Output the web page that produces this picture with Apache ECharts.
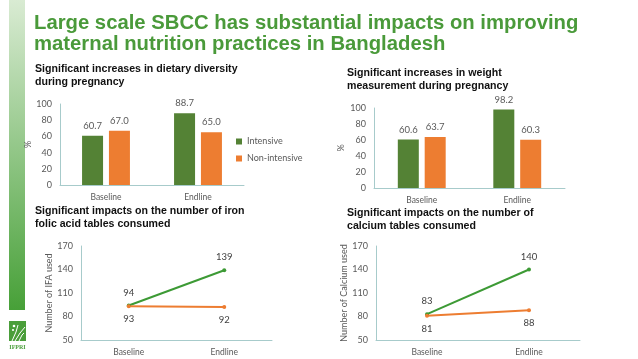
<!DOCTYPE html>
<html>
<head>
<meta charset="utf-8">
<script src="https://cdn.jsdelivr.net/npm/echarts@6/dist/echarts.min.js"></script>
<style>
html,body{margin:0;padding:0;background:#fff;}
#c{width:638px;height:359px;}
</style>
</head>
<body>
<div id="c"></div>
<script>
// ---- data ----
var categories = ['Baseline', 'Endline'];
var seriesNames = ['Intensive', 'Non-intensive'];
var intensiveDiet = [60.7, 88.7];
var nonIntensiveDiet = [67.0, 65.0];
var intensiveWeight = [60.6, 98.2];
var nonIntensiveWeight = [63.7, 60.3];
var intensiveIFA = [94, 139];
var nonIntensiveIFA = [93, 92];
var intensiveCalcium = [83, 140];
var nonIntensiveCalcium = [81, 88];

var mainTitle = 'Large scale SBCC has substantial impacts on improving\nmaternal nutrition practices in Bangladesh';
var sub1 = 'Significant increases in dietary diversity\nduring pregnancy';
var sub2 = 'Significant increases in weight\nmeasurement during pregnancy';
var sub3 = 'Significant impacts on the number of iron\nfolic acid tables consumed';
var sub4 = 'Significant impacts on the number of\ncalcium tables consumed';

// ---- styles ----
var GREEN_BAR = '#548235', ORANGE = '#ed7d31', GREEN_LINE = '#3d9a35';
var AXIS = '#a7cbcb', LBL = '#595959';
var lblFont = 'Lato, "Open Sans", sans-serif';

function fmt1(p){ return p.value.toFixed(1); }

function catAxis(gi){
  return {
    type: 'category', gridIndex: gi, data: categories,
    axisLine: {lineStyle: {color: AXIS, width: 1}},
    axisTick: {show: false},
    axisLabel: {color: LBL, fontSize: 8.5, fontFamily: lblFont, margin: 8}
  };
}
function valAxis(gi, min, max, interval, name, nameGap){
  return {
    type: 'value', gridIndex: gi, min: min, max: max, interval: interval,
    name: name, nameLocation: 'middle', nameGap: nameGap, nameRotate: 90,
    nameTextStyle: {color: LBL, fontSize: 9, fontFamily: lblFont},
    axisLine: {show: true, lineStyle: {color: AXIS, width: 1}},
    axisTick: {show: false},
    splitLine: {show: false},
    axisLabel: {color: LBL, fontSize: 9, fontFamily: lblFont, margin: 8}
  };
}
function barSeries(name, data, gi, color){
  return {
    type: 'bar', name: name, data: data, xAxisIndex: gi, yAxisIndex: gi,
    barWidth: 21, barGap: '28%', itemStyle: {color: color},
    label: {show: true, position: 'top', distance: 5, color: LBL, fontSize: 9.5, fontFamily: lblFont, formatter: fmt1}
  };
}
function lineSeries(name, data, gi, color, pos){
  return {
    type: 'line', name: name, data: data, xAxisIndex: gi, yAxisIndex: gi,
    symbol: 'circle', symbolSize: 4, lineStyle: {color: color, width: 2},
    itemStyle: {color: color},
    label: {show: true, position: pos, distance: 6, color: '#404040', fontSize: 9.5, fontFamily: lblFont}
  };
}

var subStyle = {fontSize: 10.6, fontWeight: 'bold', color: '#111', fontFamily: '"Liberation Sans", Arial, sans-serif', lineHeight: 13};

var chart = echarts.init(document.getElementById('c'), null, {renderer: 'canvas'});
chart.setOption({
  animation: false,
  backgroundColor: '#fff',
  title: [
    {text: mainTitle, left: 34, top: 13, padding: 0,
     textStyle: {fontSize: 20.3, fontWeight: 'bold', color: '#4a9a3a', fontFamily: '"Liberation Sans", Arial, sans-serif', lineHeight: 21}},
    {text: sub1, left: 35, top: 63, padding: 0, textStyle: subStyle},
    {text: sub2, left: 347, top: 67, padding: 0, textStyle: subStyle},
    {text: sub3, left: 35, top: 205, padding: 0, textStyle: subStyle},
    {text: sub4, left: 347, top: 207, padding: 0, textStyle: subStyle}
  ],
  legend: {
    data: seriesNames, orient: 'vertical', left: 236, top: 137, itemWidth: 6, itemHeight: 6, itemGap: 8,
    icon: 'rect', textStyle: {color: LBL, fontSize: 9, fontFamily: lblFont}, padding: 0
  },
  graphic: [
    {type: 'rect', shape: {x: 9, y: 0, width: 16, height: 310}, silent: true,
     style: {fill: new echarts.graphic.LinearGradient(0, 0, 0, 1, [{offset: 0, color: '#d9ebd3'}, {offset: 1, color: '#47a038'}])}},
    {type: 'group', left: 9, top: 321, silent: true, children: [
      {type: 'rect', shape: {x: 0, y: 0, width: 17, height: 20}, style: {fill: '#4a9e3a'}},
      {type: 'polyline', shape: {points: [[3, 20], [7, 11], [9, 4]]}, style: {stroke: '#fff', lineWidth: 1, fill: null}},
      {type: 'polyline', shape: {points: [[6, 20], [11, 12], [16, 6]]}, style: {stroke: '#fff', lineWidth: 1, fill: null}},
      {type: 'polyline', shape: {points: [[10, 20], [13, 14], [15, 12]]}, style: {stroke: '#fff', lineWidth: 1, fill: null}},
      {type: 'circle', shape: {cx: 5, cy: 5, r: 1.3}, style: {fill: '#fff'}},
      {type: 'circle', shape: {cx: 4, cy: 9, r: 1.1}, style: {fill: '#fff'}},
      {type: 'text', style: {x: 8.5, y: 23, text: 'IFPRI', fill: '#4a9e3a', font: 'bold 6px "Liberation Serif", serif', align: 'center'}}
    ]}
  ],
  grid: [
    {left: 60, width: 184, top: 104, height: 81},
    {left: 374, width: 191, top: 108, height: 80},
    {left: 81, width: 191, top: 246, height: 94},
    {left: 376, width: 204, top: 246, height: 94}
  ],
  xAxis: [catAxis(0), catAxis(1), catAxis(2), catAxis(3)],
  yAxis: [
    valAxis(0, 0, 100, 20, '%', 26),
    valAxis(1, 0, 100, 20, '%', 28),
    valAxis(2, 50, 170, 30, 'Number of IFA used', 25),
    valAxis(3, 50, 170, 30, 'Number of Calcium used', 26)
  ],
  series: [
    barSeries(seriesNames[0], intensiveDiet, 0, GREEN_BAR),
    barSeries(seriesNames[1], nonIntensiveDiet, 0, ORANGE),
    barSeries(seriesNames[0], intensiveWeight, 1, GREEN_BAR),
    barSeries(seriesNames[1], nonIntensiveWeight, 1, ORANGE),
    lineSeries(seriesNames[0], intensiveIFA, 2, GREEN_LINE, 'top'),
    lineSeries(seriesNames[1], nonIntensiveIFA, 2, ORANGE, 'bottom'),
    lineSeries(seriesNames[0], intensiveCalcium, 3, GREEN_LINE, 'top'),
    lineSeries(seriesNames[1], nonIntensiveCalcium, 3, ORANGE, 'bottom')
  ]
});
</script>
</body>
</html>
